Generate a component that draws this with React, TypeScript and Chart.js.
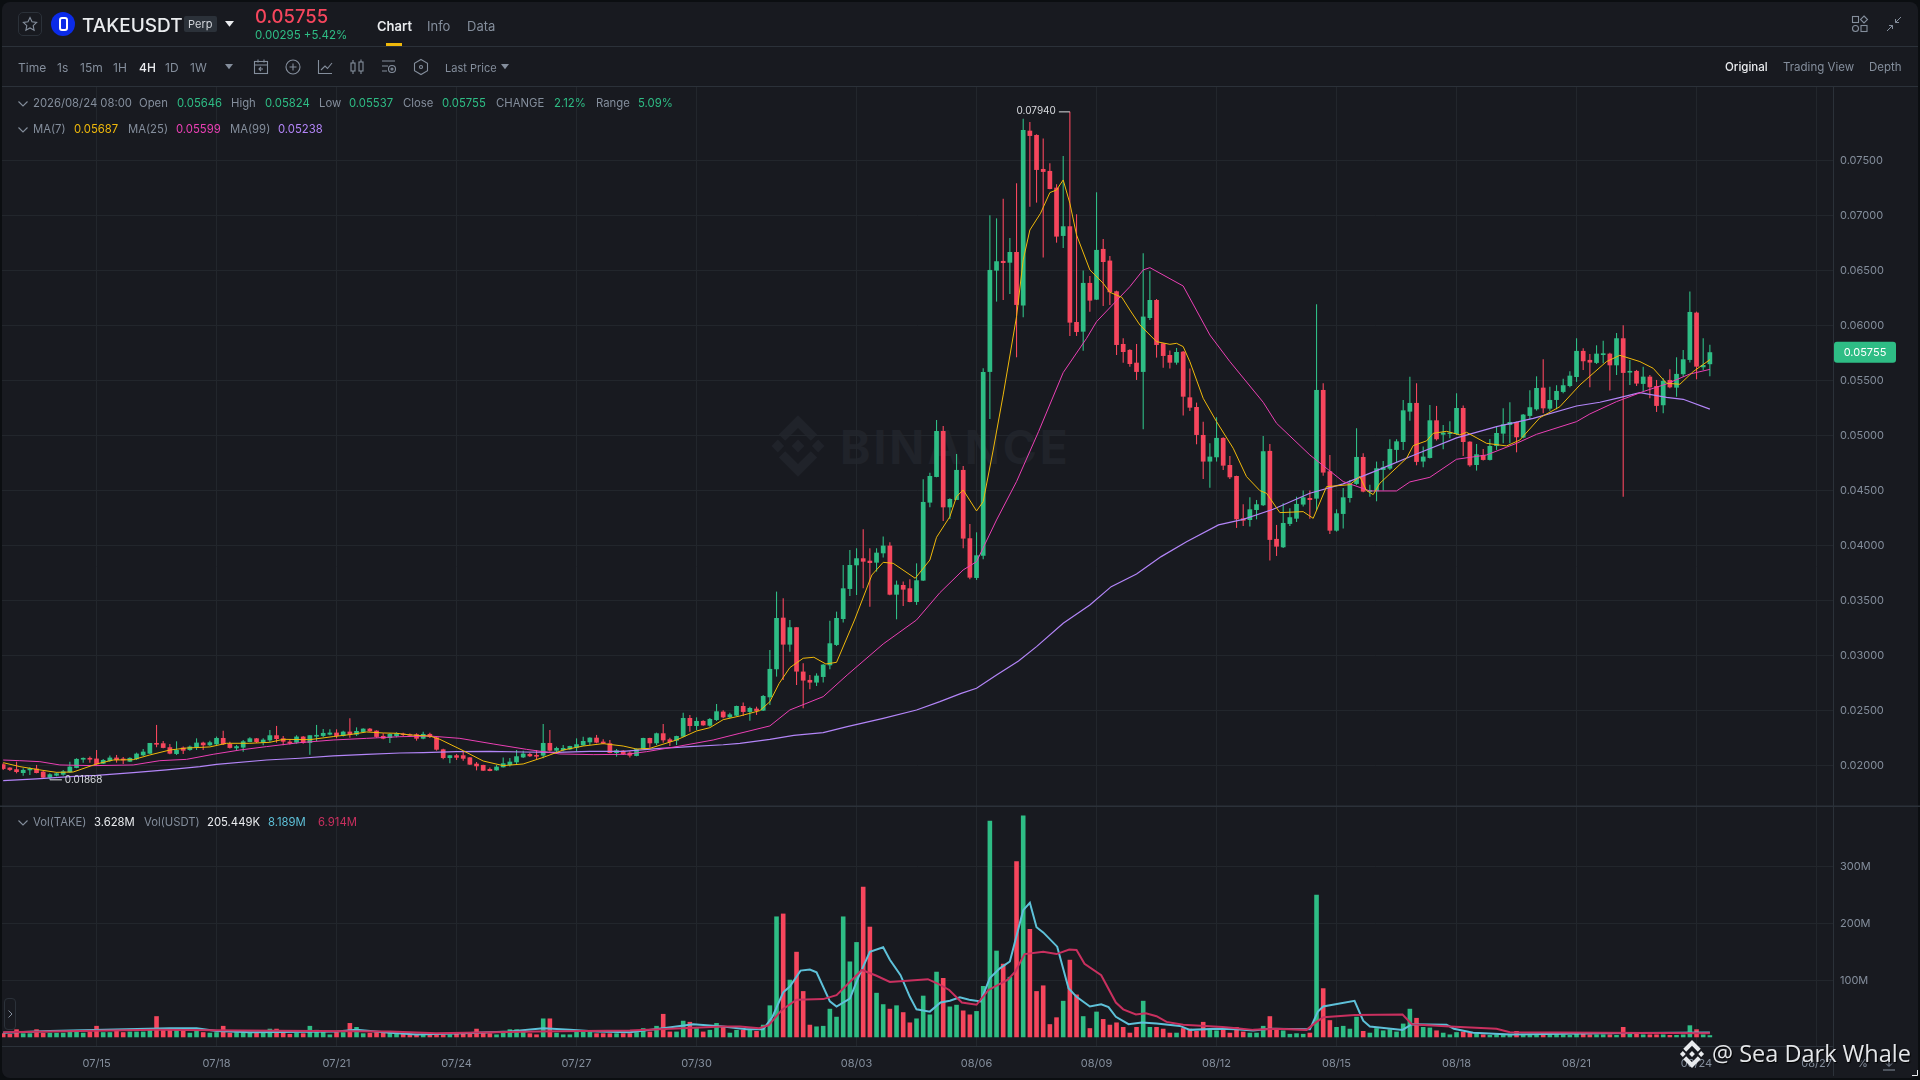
import React, { useEffect, useRef } from "react";
import { Chart, registerables } from "chart.js";

Chart.register(...registerables);

// Prices are in units of 0.00001, volumes in millions.
const PRICE_UNIT = 0.00001;

const opens = [
  2009,1979,1964,1930,1955,1970,1942,1888,1906,1915,
  1936,1976,2052,2067,2061,2015,2039,2070,2061,2033,
  2055,2091,2106,2203,2200,2164,2103,2161,2139,2164,
  2206,2182,2191,2248,2194,2155,2161,2212,2245,2206,
  2227,2273,2245,2215,2206,2261,2203,2261,2267,2279,
  2297,2267,2306,2279,2303,2333,2315,2267,2248,2266,
  2288,2282,2282,2242,2285,2254,2145,2066,2091,2091,
  2072,2015,2003,1966,1954,1982,2003,2027,2072,2103,
  2094,2088,2203,2133,2136,2145,2160,2181,2209,2251,
  2215,2200,2112,2133,2115,2085,2148,2248,2200,2291,
  2236,2224,2260,2430,2357,2403,2360,2412,2488,2436,
  2451,2539,2485,2515,2497,2618,2873,3342,3097,3255,
  2852,2776,2752,2803,2909,3094,3330,3603,3818,3882,
  3860,3842,3927,3997,3551,3639,3609,3485,3679,4388,
  4621,5039,4345,4412,4685,4064,3703,3906,5576,6497,
  6585,6569,6666,6179,7769,7730,7421,7403,7251,6812,
  6900,6030,5942,6385,6233,6694,6588,6309,5830,5776,
  5660,5576,6066,6230,5836,5730,5660,5760,5345,5257,
  5003,4761,4800,4976,4730,4630,4245,4230,4321,4364,
  4858,4058,3982,4194,4242,4370,4430,4424,5412,4673,
  4133,4285,4430,4558,4803,4485,4491,4685,4697,4867,
  4939,5215,5294,4761,4794,5136,5006,5012,5012,5248,
  4942,4730,4821,4776,4903,5015,5094,5121,4979,5176,
  5236,5433,5242,5321,5394,5448,5530,5767,5685,5658,
  5730,5742,5636,5882,5570,5585,5467,5533,5448,5273,
  5503,5433,5555,5685,6115,5618,5646,
];
const highs = [
  2018,1982,2033,1973,1982,2003,1948,1927,1936,1958,
  2033,2064,2070,2079,2139,2058,2088,2094,2076,2073,
  2115,2148,2203,2367,2221,2194,2218,2170,2179,2245,
  2215,2224,2261,2315,2215,2185,2230,2255,2248,2245,
  2321,2358,2267,2236,2273,2267,2273,2367,2330,2327,
  2327,2315,2427,2345,2336,2339,2318,2291,2291,2300,
  2297,2288,2291,2306,2297,2260,2151,2094,2103,2121,
  2075,2030,2006,1981,2003,2072,2066,2139,2133,2115,
  2139,2376,2321,2169,2184,2178,2245,2260,2254,2276,
  2236,2230,2148,2139,2127,2154,2251,2251,2297,2376,
  2251,2269,2478,2457,2436,2409,2430,2557,2500,2478,
  2542,2570,2533,2533,2639,3048,3579,3518,3321,3255,
  2927,2821,2836,2921,3315,3397,3821,3957,3973,4145,
  3973,3973,4079,4027,3679,3670,3691,3836,4600,4660,
  5139,5085,4427,4830,4721,4194,4118,5609,7000,6972,
  7151,6794,7291,7878,7848,7736,7697,7472,7282,7539,
  7940,7009,6497,6448,7209,6785,6630,6315,5882,5782,
  5830,6654,6494,6239,5836,5770,5794,5766,5606,5297,
  5124,4927,5164,4982,4812,4633,4373,4436,4412,4994,
  4921,4185,4382,4336,4442,4497,4497,6191,5473,4821,
  4327,4521,4594,5064,4836,4551,4761,4767,4964,4964,
  5321,5533,5473,4897,5276,5267,5094,5127,5382,5270,
  4945,4921,4876,4967,5079,5245,5300,5124,5194,5409,
  5536,5691,5442,5455,5515,5582,5882,5791,5739,5818,
  5860,5751,5930,6000,5685,5594,5624,5548,5503,5518,
  5600,5709,5776,6306,6124,5882,5824,
];
const lows = [
  1958,1948,1927,1906,1912,1927,1882,1868,1900,1906,
  1933,1973,2024,2024,2003,2012,2033,2024,2012,2030,
  2048,2085,2103,2164,2155,2100,2094,2103,2133,2139,
  2139,2176,2182,2185,2152,2136,2124,2209,2203,2182,
  2212,2206,2182,2188,2197,2197,2097,2221,2258,2273,
  2245,2261,2251,2267,2297,2306,2251,2236,2203,2254,
  2266,2260,2224,2236,2248,2133,2054,2018,2048,2042,
  2003,1954,1948,1945,1951,1979,1988,2003,2066,2075,
  2057,2063,2124,2115,2127,2139,2124,2175,2184,2200,
  2191,2109,2079,2094,2072,2082,2145,2160,2184,2206,
  2175,2184,2254,2306,2321,2360,2351,2403,2427,2427,
  2448,2449,2406,2458,2494,2549,2806,2776,3033,2730,
  2518,2691,2721,2752,2873,3085,3297,3539,3548,3609,
  3442,3761,3888,3545,3327,3448,3482,3458,3676,4345,
  4618,4221,4239,4412,3973,3691,3685,3873,5148,6215,
  6230,6285,5709,6073,7078,7115,6615,7236,6751,6703,
  5903,5903,5769,6124,6230,6175,6185,5730,5660,5624,
  5503,5054,6048,5706,5615,5606,5642,5179,5221,4918,
  4603,4524,4761,4685,4603,4158,4176,4170,4236,4358,
  3861,3903,3976,4176,4212,4352,4242,4321,4633,4103,
  4124,4152,4388,4549,4482,4442,4400,4497,4685,4752,
  4867,5133,4727,4709,4788,4952,4873,4973,5003,4812,
  4715,4679,4770,4770,4867,4927,4927,4845,4973,5145,
  5224,5200,5224,5236,5382,5436,5485,5594,5436,5648,
  5654,5406,5548,4442,5457,5448,5394,5336,5212,5200,
  5427,5351,5533,5661,5509,5594,5537,
];
const closes = [
  1967,1958,1939,1958,1973,1930,1888,1918,1927,1945,
  1988,2058,2067,2052,2009,2048,2070,2048,2045,2067,
  2106,2124,2203,2188,2158,2106,2139,2133,2170,2206,
  2182,2209,2248,2191,2158,2173,2218,2245,2212,2233,
  2273,2239,2215,2197,2261,2203,2273,2276,2294,2297,
  2267,2306,2279,2312,2333,2309,2258,2242,2285,2291,
  2276,2270,2242,2285,2257,2142,2066,2091,2069,2060,
  2006,1991,1951,1948,1988,2018,2033,2082,2106,2082,
  2079,2203,2133,2157,2157,2175,2191,2221,2251,2206,
  2197,2112,2136,2103,2088,2148,2248,2200,2291,2227,
  2212,2266,2430,2357,2403,2363,2421,2491,2436,2463,
  2539,2485,2521,2494,2630,2876,3339,3097,3255,2852,
  2770,2752,2815,2915,3109,3339,3609,3821,3882,3851,
  3839,3933,3997,3551,3642,3597,3485,3682,4394,4630,
  5039,4345,4421,4685,4061,3706,3909,5576,6503,6582,
  6566,6666,6185,7775,7721,7412,7394,7239,6806,6900,
  6024,5939,6385,6224,6685,6575,6300,5821,5757,5648,
  5576,6079,6230,5821,5721,5660,5757,5351,5251,5003,
  4761,4806,4976,4724,4618,4236,4224,4327,4373,4855,
  4049,3988,4203,4255,4376,4436,4412,5412,4661,4133,
  4291,4436,4558,4803,4488,4503,4700,4709,4876,4945,
  5227,5294,4758,4806,5136,4964,5024,5024,5248,4939,
  4727,4827,4776,4903,5021,5100,5121,4982,5188,5255,
  5430,5245,5321,5403,5455,5542,5767,5673,5661,5742,
  5745,5636,5882,5567,5585,5470,5533,5436,5267,5494,
  5436,5558,5691,6121,5624,5639,5755,
];
const volumes = [
  7,6,14,7,7,14,8,8,8,8,
  12,12,8,10,20,9,9,11,9,10,
  10,10,16,37,13,13,13,13,8,12,
  9,8,9,20,8,9,9,8,9,9,
  15,15,11,6,8,7,20,13,10,5,
  9,9,25,18,7,8,9,9,9,8,
  6,6,6,6,6,7,5,5,6,7,
  7,15,9,7,5,9,14,14,10,7,
  5,33,33,8,5,5,10,10,10,7,
  7,7,7,7,7,9,16,10,20,41,
  10,10,29,27,16,10,13,25,19,8,
  13,13,13,11,22,56,212,217,101,150,
  81,22,19,20,50,36,212,133,167,264,
  194,78,58,50,56,44,26,33,73,40,
  115,104,54,57,47,40,46,90,380,152,
  129,106,309,389,190,81,91,23,35,64,
  136,75,37,16,45,32,22,26,18,8,
  18,64,18,18,15,8,8,16,15,11,
  27,13,12,13,8,18,10,8,8,20,
  37,14,12,6,7,6,8,250,86,30,
  18,20,15,36,11,8,16,12,14,10,
  24,50,34,18,17,12,8,5,9,10,
  9,7,5,4,5,6,6,11,6,6,
  6,9,7,6,5,4,6,6,5,5,
  5,5,4,18,6,6,5,5,5,5,
  4,4,5,21,14,5,3.628,
];

const ma7Idx = [0,2.5,5.5,8,10.5,14,16.5,19.5,22,25,27.5,31,33.5,37,40,42,46,49.5,52,54.5,57,59,61,64,65.5,69,72,75,78,81,84,87,90,93,95,97,101,104,106,108,110.5,113.5,115,116.4,118,120,121.6,123.4,125,127.7,130.3,132,133.5,136.8,139,140,142,143,144,146,147,148.5,150,152,153,154,155.6,157,158,159,160,161,163,165,166,167.8,169,170.5,173,175,176,177,178,180,182,184.5,186.5,188.5,189.5,191.5,195,196.5,198.5,202,203.5,204.5,205.5,206.5,210.5,211.5,213.5,214.5,216.5,218.5,219.5,222.5,225.5,227.5,230.5,233.5,236.5,240.5,242.5,245.5,247.5,249.5,251.5,253.5,256];
const ma7Val = [2024,1988,1958,1936,1939,2012,2048,2051,2094,2139,2157,2167,2200,2200,2209,2236,2233,2261,2279,2303,2294,2291,2276,2266,2236,2133,2039,1997,2012,2072,2139,2175,2197,2175,2148,2154,2230,2312,2342,2415,2448,2497,2578,2745,2888,2973,2982,2921,2936,3321,3730,3845,3836,3700,3866,4073,4260,4442,4503,4312,4397,4866,5367,6079,6594,6866,7018,7206,7230,7321,7109,6821,6503,6382,6300,6254,6139,6003,5851,5827,5836,5806,5669,5336,5124,4882,4624,4497,4473,4297,4306,4245,4533,4551,4624,4497,4461,4564,4791,4906,4949,5018,5036,5003,5027,4927,4903,4957,5160,5260,5457,5670,5727,5670,5609,5473,5464,5579,5687];

const ma25Idx = [0,2.5,5.5,8.5,13.5,19.5,23.5,27.5,31.5,35.5,39.5,44.5,49.5,54.5,59.5,64,68.5,73.5,78.5,83.5,88.5,93.5,96.5,101.5,106.5,110.5,115,118,123,126.6,132,137,140.5,144,146,149,152,155.3,159,162.5,164,169,171,172,177,181,184,189,191,196,201,205,209,211,214,218,222.5,227,230,236,238,242,246,249.5,253,256];
const ma25Val = [2048,2042,2033,2003,1997,2003,2042,2054,2100,2139,2170,2206,2230,2245,2260,2266,2245,2194,2145,2103,2097,2100,2124,2175,2230,2291,2358,2503,2624,2821,3103,3321,3569,3776,3851,4230,4579,5033,5570,5881,6033,6351,6503,6524,6357,5912,5670,5300,5109,4821,4579,4494,4494,4576,4618,4782,4821,4927,5009,5124,5194,5306,5397,5467,5557,5599];

const ma99Idx = [0,5,10,14,19.5,24.5,29.5,32,39.5,44.5,49.5,54.5,59.5,63,68,73,78,83,88,93,98,103,108,110.5,115,118.6,123,126.6,132,137,140.5,143.7,146,149,152.3,155,159,163,166.2,170,173.7,177.5,182.3,186,190.5,196,201,206,212,218,224,229.5,236,239.5,242,245.5,249.5,252,256];
const ma99Val = [1861,1876,1897,1909,1933,1958,1988,2009,2048,2064,2085,2100,2112,2115,2124,2127,2121,2118,2127,2127,2151,2169,2187,2200,2236,2272,2297,2351,2427,2503,2579,2654,2700,2821,2948,3079,3291,3457,3624,3739,3897,4033,4185,4236,4327,4473,4558,4679,4830,4976,5079,5154,5266,5300,5336,5388,5345,5327,5238];

const volFastIdx = [0,7,25,29,32,37,50,53,58,62,69,76,81,85,89,94,99,103.5,108,111.5,114,115.4,117,118,119.6,121,122,124,125,127,128.3,130,132,133,134.6,136,137,139,140.6,142,143.5,144.9,146.6,148,149.5,151,153,154,155,156,158.1,159.8,161,163,164.7,165.8,166.9,168.8,170.8,173,176.5,178,182,185,187.5,190,196,197.2,198,202.7,204,205,209.9,211.3,216.5,217.6,220.5,226,240,256];
const volFastVal = [8,11,16,16,11,9,10,13,8,5,7,10,16,13,10,9,16,23,19,14,14,36,79,89,117,119,114,63,54,68,106,150,158,136,109,71,49,45,61,64,70,66,63,104,121,133,223,236,193,184,159,86,71,54,58,53,36,23,26,24,20,13,15,14,12,15,14,45,54,64,29,19,13,23,22,15,8,5,7,8.189];
const volSlowIdx = [0,23,36,58,65,80,94,108,110.5,113.4,114.8,116.8,119,123,125,128.8,131,133,138.7,140.4,141.9,143.8,146,147.8,150.7,151.8,153.2,156,158,159.9,161,162.2,164.7,166.9,168,169.9,171.4,173,174.5,177,182.9,185,187.5,190.9,195.5,197,198,202.7,209.9,211.3,217,224,226,240,256];
const volSlowVal = [9,13,12,10,7,10,12,19,19,16,21,48,66,67,74,118,108,97,102,93,83,61,57,83,101,115,146,150,146,154,153,129,109,61,49,40,42,37,27,22,18,16,13,15,13,27,35,39,40,23,19,15,9,8,6.914];

const priceTicks = [0.02,0.025,0.03,0.035,0.04,0.045,0.05,0.055,0.06,0.065,0.07,0.075];
const volumeTicks = [100,200,300];
const dateTickIdx = [14,32,50,68,86,104,128,146,164,182,200,218,236,254,272];
const dateTickLabels = ["07/15","07/18","07/21","07/24","07/27","07/30","08/03","08/06","08/09","08/12","08/15","08/18","08/21","08/24","08/27"];

const highMark = { idx: 160, value: 0.0794, label: "0.07940" };
const lowMark = { idx: 7, value: 0.01868, label: "0.01868" };

const UP = "#2EBD85";
const DOWN = "#F6465D";
const GRID = "#22262c";
const LINE = "#2b3139";
const MUTED = "#848E9C";
const FONT = "Inter, 'Noto Sans', sans-serif";

const pairs = (xs: number[], ys: number[], k = 1) => xs.map((x, i) => ({ x, y: ys[i] * k }));

const overlayPlugin = {
  id: "overlay",
  afterDraw(chart: any) {
    const { ctx, scales } = chart;
    const { x, y, yv } = scales;
    ctx.save();
    ctx.fillStyle = LINE;
    ctx.fillRect(0, yv.top - 0.5, chart.width, 1.5);
    ctx.fillRect(y.left, yv.bottom, 1, 30);
    ctx.font = `10px ${FONT}`;
    ctx.textBaseline = "middle";
    // highest / lowest price marks
    const hx = x.getPixelForValue(highMark.idx);
    const hy = y.getPixelForValue(highMark.value);
    ctx.fillStyle = "#D8DBDF";
    ctx.fillRect(hx - 11, hy - 0.5, 11, 1);
    ctx.textAlign = "right";
    ctx.fillText(highMark.label, hx - 14, hy - 1);
    const lx = x.getPixelForValue(lowMark.idx);
    const ly = y.getPixelForValue(lowMark.value);
    ctx.fillRect(lx, ly - 0.5, 12, 1);
    ctx.textAlign = "left";
    ctx.fillText(lowMark.label, lx + 15, ly);
    // last price tag
    const last = closes[closes.length - 1] * PRICE_UNIT;
    const py = y.getPixelForValue(last);
    ctx.fillStyle = UP;
    ctx.beginPath();
    ctx.roundRect(y.left + 1, py - 10.5, 62, 21, 3);
    ctx.fill();
    ctx.fillStyle = "#FFFFFF";
    ctx.font = `11px ${FONT}`;
    ctx.textAlign = "center";
    ctx.fillText(last.toFixed(5), y.left + 32, py + 0.5);
    ctx.restore();
  },
};

const abs = (left: number, top: number, extra: any = {}) => ({ position: "absolute", left, top, ...extra });

function T({ x, y, c = MUTED, s = 12, w = 400, children, right, font, ls }: any) {
  return (
    <span
      style={{
        position: "absolute",
        left: right === undefined ? x : undefined,
        right,
        top: y,
        transform: "translateY(-50%)",
        color: c,
        fontSize: s,
        fontWeight: w,
        fontFamily: font || FONT,
        whiteSpace: "nowrap",
        lineHeight: 1,
        letterSpacing: ls,
      }}
    >
      {children}
    </span>
  );
}

function BinanceMark({ size, color, style }: any) {
  return (
    <svg width={size} height={size} viewBox="0 0 32 32" style={style} fill={color}>
      <path d="M16 12.9L19.1 16 16 19.1 12.9 16z" />
      <path d="M3.1 16l3.1-3.1 3.1 3.1-3.1 3.1z" />
      <path d="M22.7 16l3.1-3.1 3.1 3.1-3.1 3.1z" />
      <path d="M9.8 13.5L16 7.3l6.2 6.2 3.1-3.1L16 1.1 6.7 10.4z" />
      <path d="M22.2 18.5L16 24.7l-6.2-6.2-3.1 3.1 9.3 9.3 9.3-9.3z" />
    </svg>
  );
}

const Chevron = ({ x, y }: any) => (
  <svg width="10" height="6" viewBox="0 0 10 6" style={abs(x, y - 3) as any} fill="none" stroke={MUTED} strokeWidth="1.1">
    <path d="M0.5 0.5L5 5l4.5-4.5" />
  </svg>
);
const Caret = ({ x, y, c = MUTED, w = 8 }: any) => (
  <svg width={w} height={w * 0.65} viewBox="0 0 8 5.2" style={abs(x, y - (w * 0.65) / 2) as any} fill={c}>
    <path d="M0 0h8L4 5.2z" />
  </svg>
);
const Icon = ({ x, y, children, w = 18 }: any) => (
  <svg width={w} height={w} viewBox="0 0 18 18" style={abs(x, y - w / 2) as any} fill="none" stroke={MUTED} strokeWidth="1.1">
    {children}
  </svg>
);

export default function App() {
  const ref = useRef<HTMLCanvasElement | null>(null);

  useEffect(() => {
    const up = (i: number) => closes[i] >= opens[i];
    const candleColors = closes.map((_, i) => (up(i) ? UP : DOWN));
    const chart = new Chart(ref.current as any, {
      type: "bar",
      plugins: [overlayPlugin],
      data: {
        datasets: [
          {
            type: "line",
            data: pairs(ma7Idx, ma7Val, PRICE_UNIT),
            yAxisID: "y",
            borderColor: "#F0B90B",
            borderWidth: 1,
            pointRadius: 0,
            order: 1,
          },
          {
            type: "line",
            data: pairs(ma25Idx, ma25Val, PRICE_UNIT),
            yAxisID: "y",
            borderColor: "#EB40B5",
            borderWidth: 1,
            pointRadius: 0,
            order: 1,
          },
          {
            type: "line",
            data: pairs(ma99Idx, ma99Val, PRICE_UNIT),
            yAxisID: "y",
            borderColor: "#B385F8",
            borderWidth: 1.2,
            pointRadius: 0,
            order: 1,
          },
          {
            type: "bar",
            data: opens.map((o, i) => ({ x: i, y: [o * PRICE_UNIT, closes[i] * PRICE_UNIT] })),
            yAxisID: "y",
            backgroundColor: candleColors,
            barThickness: 4.7,
            grouped: false,
            inflateAmount: 0,
            order: 2,
          },
          {
            type: "bar",
            data: lows.map((l, i) => ({ x: i, y: [l * PRICE_UNIT, highs[i] * PRICE_UNIT] })),
            yAxisID: "y",
            backgroundColor: candleColors,
            barThickness: 1.1,
            grouped: false,
            inflateAmount: 0,
            order: 3,
          },
          {
            type: "line",
            data: pairs(volFastIdx, volFastVal),
            yAxisID: "yv",
            borderColor: "#5EC1D9",
            borderWidth: 2,
            pointRadius: 0,
            order: 1,
          },
          {
            type: "line",
            data: pairs(volSlowIdx, volSlowVal),
            yAxisID: "yv",
            borderColor: "#C9305F",
            borderWidth: 2,
            pointRadius: 0,
            order: 0,
          },
          {
            type: "bar",
            data: volumes.map((v, i) => ({ x: i, y: v })),
            yAxisID: "yv",
            backgroundColor: candleColors,
            barThickness: 4.6,
            grouped: false,
            inflateAmount: 0,
            order: 2,
          },
        ],
      } as any,
      options: {
        animation: false,
        responsive: false,
        devicePixelRatio: 1,
        events: [],
        layout: { padding: { left: 2, top: 87, right: 0, bottom: 0 } },
        plugins: { legend: { display: false }, tooltip: { enabled: false } },
        scales: {
          x: {
            type: "linear",
            min: -0.18,
            max: 274.47,
            offset: false,
            afterBuildTicks: (s: any) => {
              s.ticks = dateTickIdx.map((value) => ({ value }));
            },
            afterFit: (s: any) => {
              s.height = 34;
            },
            grid: { color: GRID, offset: false, drawTicks: false },
            border: { color: LINE },
            ticks: {
              autoSkip: false,
              maxRotation: 0,
              padding: 11,
              color: MUTED,
              font: { size: 11, family: FONT },
              callback: (v: any) => dateTickLabels[dateTickIdx.indexOf(v)],
            },
          },
          yv: {
            type: "linear",
            position: "right",
            stack: "panes",
            stackWeight: 240,
            weight: 1,
            min: -15.3,
            max: 405.8,
            afterBuildTicks: (s: any) => {
              s.ticks = volumeTicks.map((value) => ({ value }));
            },
            afterFit: (s: any) => {
              s.width = 87;
            },
            grid: { color: GRID, drawTicks: false },
            border: { color: LINE },
            ticks: {
              padding: 7,
              color: MUTED,
              font: { size: 11, family: FONT },
              callback: (v: any) => `${v}M`,
            },
          },
          y: {
            type: "linear",
            position: "right",
            stack: "panes",
            stackWeight: 719,
            weight: 0,
            min: 0.0163,
            max: 0.08166,
            afterBuildTicks: (s: any) => {
              s.ticks = priceTicks.map((value) => ({ value }));
            },
            afterFit: (s: any) => {
              s.width = 87;
            },
            grid: { color: GRID, drawTicks: false },
            border: { color: LINE },
            ticks: {
              padding: 7,
              color: MUTED,
              font: { size: 11, family: FONT },
              callback: (v: any) => Number(v).toFixed(5),
            },
          },
        },
      } as any,
    });
    return () => chart.destroy();
  }, []);

  return (
    <div style={{ position: "fixed", left: 0, top: 0, width: 1920, height: 1080, background: "#0B0E11", overflow: "hidden", fontFamily: FONT }}>
      <div style={abs(2, 2, { width: 1916, height: 1076, background: "#181A20", borderRadius: 8 }) as any} />

      {/* chart watermark */}
      <BinanceMark size={66} color="#20232A" style={abs(765, 413)} />
      <T x={840} y={447} s={46} w={700} c="#20232A" ls={3}>BINANCE</T>

      <canvas ref={ref} width={1920} height={1080} style={abs(0, 0, { width: 1920, height: 1080, display: "block" }) as any} />

      {/* header */}
      <div style={abs(2, 46, { width: 1916, height: 1, background: LINE }) as any} />
      <div style={abs(2, 86, { width: 1916, height: 1, background: LINE }) as any} />
      <div style={abs(18, 12, { width: 24, height: 24, border: "1px solid #2B3139", borderRadius: 5, boxSizing: "border-box" }) as any} />
      <svg width="16" height="16" viewBox="0 0 16 16" style={abs(22, 16) as any} fill="none" stroke={MUTED} strokeWidth="1.1">
        <path d="M8 1.5l2 4.3 4.6.6-3.4 3.2.9 4.7L8 12l-4.1 2.3.9-4.7L1.4 6.4 6 5.8z" />
      </svg>
      <div style={abs(51, 12, { width: 24, height: 24, borderRadius: 12, background: "#0B2BE8" }) as any} />
      <div style={abs(58.5, 17, { width: 9, height: 14, border: "2px solid #fff", borderRadius: 3, boxSizing: "border-box" }) as any} />
      <T x={82} y={25} s={19} w={500} c="#EAECEF">TAKEUSDT</T>
      <div style={abs(184, 16, { width: 33, height: 16, background: "#2B3139", borderRadius: 2 }) as any} />
      <T x={188} y={24} s={11} c="#D1D4DA">Perp</T>
      <Caret x={225} y={24} c="#EAECEF" w={9} />
      <T x={255} y={16} s={18.5} w={500} c={DOWN}>0.05755</T>
      <T x={255} y={36} s={11.5} c={UP}>0.00295 +5.42%</T>
      <T x={377} y={26} s={13} w={600} c="#EAECEF">Chart</T>
      <T x={427} y={26} s={13} c={MUTED}>Info</T>
      <T x={467} y={26} s={13} c={MUTED}>Data</T>
      <div style={abs(386, 43, { width: 16, height: 3, background: "#F0B90B" }) as any} />
      <svg width="18" height="18" viewBox="0 0 18 18" style={abs(1851, 15) as any} fill="none" stroke={MUTED} strokeWidth="1.1">
        <rect x="1.5" y="1.5" width="6" height="6" />
        <path d="M13 1l3.5 3.5L13 8 9.5 4.5z" />
        <circle cx="4.5" cy="13.5" r="3" />
        <rect x="10" y="10.5" width="6" height="6" />
      </svg>
      <svg width="16" height="16" viewBox="0 0 16 16" style={abs(1886, 16) as any} fill="none" stroke={MUTED} strokeWidth="1">
        <path d="M15 1L9.5 6.5M9.5 3v3.5H13M1 15l5.5-5.5M6.5 13V9.5H3" />
      </svg>

      {/* toolbar */}
      <T x={18} y={68} s={12}>Time</T>
      <T x={57} y={68} s={12}>1s</T>
      <T x={80} y={68} s={12}>15m</T>
      <T x={113} y={68} s={12}>1H</T>
      <T x={139} y={68} s={12} w={500} c="#EAECEF">4H</T>
      <T x={165} y={68} s={12}>1D</T>
      <T x={190} y={68} s={12}>1W</T>
      <Caret x={225} y={67} w={8} />
      <Icon x={252} y={67}>
        <rect x="2.5" y="3.5" width="13" height="12" />
        <path d="M2.5 7h13M6 1.5v3M12 1.5v3M11 11H7m2-2l-2 2 2 2" />
      </Icon>
      <Icon x={284} y={67}>
        <circle cx="9" cy="9" r="7" />
        <path d="M9 5.5v7M5.5 9h7" />
      </Icon>
      <Icon x={316} y={67}>
        <path d="M2.5 2v13.5H16M5 12l4-4 2.5 2.5L16 5" />
      </Icon>
      <Icon x={348} y={67}>
        <rect x="3" y="5" width="4" height="8" />
        <rect x="11" y="4" width="4" height="9" />
        <path d="M5 2v3M5 13v3M13 1.5V4M13 13v3" />
      </Icon>
      <Icon x={380} y={67}>
        <path d="M2 3h13M2 8h6M2 13h5" />
        <circle cx="12" cy="11" r="3.5" />
        <circle cx="12" cy="11" r="1" />
      </Icon>
      <Icon x={412} y={67}>
        <path d="M9 1.5l6.5 3.7v7.6L9 16.5l-6.5-3.7V5.2z" />
        <circle cx="9" cy="9" r="1.5" />
      </Icon>
      <T x={445} y={67.5} s={11}>Last Price</T>
      <Caret x={501} y={67} w={8} />
      <T x={1725} y={68} s={11.5} w={500} c="#EAECEF">Original</T>
      <T x={1783} y={68} s={11.5}>Trading View</T>
      <T x={1869} y={68} s={11.5}>Depth</T>

      {/* candle legend */}
      <Chevron x={18} y={104} />
      <T x={33} y={104} s={11.3}>2026/08/24 08:00</T>
      <T x={139} y={104} s={11.3}>Open</T>
      <T x={177} y={104} s={11.3} c={UP}>0.05646</T>
      <T x={231} y={104} s={11.3}>High</T>
      <T x={265} y={104} s={11.3} c={UP}>0.05824</T>
      <T x={319} y={104} s={11.3}>Low</T>
      <T x={349} y={104} s={11.3} c={UP}>0.05537</T>
      <T x={403} y={104} s={11.3}>Close</T>
      <T x={442} y={104} s={11.3} c={UP}>0.05755</T>
      <T x={496} y={104} s={11.3}>CHANGE</T>
      <T x={554} y={104} s={11.3} c={UP}>2.12%</T>
      <T x={596} y={104} s={11.3}>Range</T>
      <T x={638} y={104} s={11.3} c={UP}>5.09%</T>

      <Chevron x={18} y={130} />
      <T x={33} y={130} s={11.3}>MA(7)</T>
      <T x={74} y={130} s={11.3} c="#F0B90B">0.05687</T>
      <T x={128} y={130} s={11.3}>MA(25)</T>
      <T x={176} y={130} s={11.3} c="#EB40B5">0.05599</T>
      <T x={230} y={130} s={11.3}>MA(99)</T>
      <T x={278} y={130} s={11.3} c="#B385F8">0.05238</T>

      <Chevron x={18} y={823} />
      <T x={33} y={823} s={11.3}>Vol(TAKE)</T>
      <T x={94} y={823} s={11.3} c="#EAECEF">3.628M</T>
      <T x={144} y={823} s={11.3}>Vol(USDT)</T>
      <T x={207} y={823} s={11.3} c="#EAECEF">205.449K</T>
      <T x={268} y={823} s={11.3} c="#5EC1D9">8.189M</T>
      <T x={318} y={823} s={11.3} c="#C9305F">6.914M</T>

      {/* collapse handle */}
      <div style={abs(4, 998, { width: 12, height: 32, border: "1px solid #2B3139", borderRadius: 4, boxSizing: "border-box" }) as any} />
      <svg width="5" height="8" viewBox="0 0 5 8" style={abs(8, 1010) as any} fill="none" stroke={MUTED}>
        <path d="M0.5 0.5L4 4 .5 7.5" />
      </svg>

      {/* bottom-right controls and author stamp */}
      <T x={1857} y={1063} s={11}>%</T>
      <svg width="14" height="14" viewBox="0 0 14 14" style={abs(1882, 1057) as any} fill="none" stroke={MUTED}>
        <path d="M7 1v8M4 6.5L7 9.5l3-3M1 13h12" />
      </svg>
      <BinanceMark size={30} color="#E9EBEE" style={abs(1677, 1039)} />
      <T x={1712} y={1054} s={23.5} c="#E4E6E9" font="'Open Sans', sans-serif">
        <span style={{ textShadow: "1px 1px 1px #000" }}>@ Sea Dark Whale</span>
      </T>
      <svg width="6" height="6" viewBox="0 0 6 6" style={abs(1912, 1070) as any} fill="none" stroke="#EAECEF">
        <path d="M5.5 0v5.5H0" />
      </svg>
    </div>
  );
}
